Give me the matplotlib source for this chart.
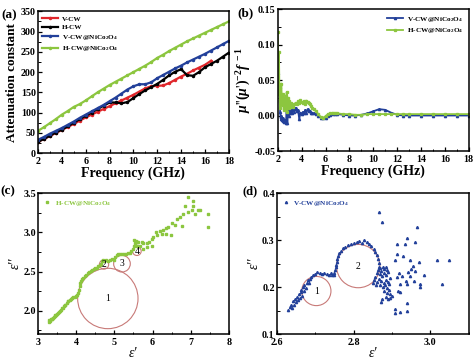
import numpy as np
import matplotlib
matplotlib.use("Agg")
import matplotlib.pyplot as plt
from matplotlib.patches import Ellipse
from matplotlib.ticker import AutoMinorLocator

plt.rcParams['font.family'] = ['Liberation Serif', 'DejaVu Serif']
plt.rcParams['font.weight'] = 'bold'
plt.rcParams['mathtext.fontset'] = 'custom'
plt.rcParams['mathtext.rm'] = 'Liberation Serif:bold'
plt.rcParams['mathtext.it'] = 'Liberation Serif:italic:bold'
plt.rcParams['mathtext.bf'] = 'Liberation Serif:bold'

RED = '#e0262b'
BLUE = '#22409a'
GREEN = '#8cc63f'
RING = '#c87a78'

# ---- (a) attenuation constant ----
freq_a = [2.0, 2.5, 3.0, 3.5, 4.0, 4.5, 5.0, 5.5, 6.0, 6.5, 7.0, 7.5, 8.0, 8.5, 9.0, 9.5,
          10.0, 10.5, 11.0, 11.5, 12.0, 12.5, 13.0, 13.5, 14.0, 14.5, 15.0, 15.5, 16.0,
          16.5, 17.0, 17.5, 18.0]
att_vcw = [28, 35, 42, 50, 57, 65, 72, 80, 88, 95, 102, 109, 116, 123, 130, 137,
           144, 152, 160, 165, 166, 167, 173, 181, 189, 196, 204, 211, 218,
           228, np.nan, np.nan, np.nan]
att_hcw = [28, 35, 43, 51, 58, 66, 75, 84, 92, 100, 109, 117, 125, 125, 123, 126,
           136, 146, 155, 163, 171, 181, 192, 201, 207, 192, 191, 200, 212,
           220, 228, 238, 248]
att_vnc = [33, 40, 48, 55, 62, 70, 78, 87, 95, 103, 111, 119, 128, 137, 147, 157,
           165, 170, 170, 175, 185, 193, 201, 209, 216, 224, 231, 238, 245,
           253, 261, 269, 277]
att_hnc = [55, 64, 74, 84, 95, 104, 114, 121, 130, 140, 150, 159, 168, 176, 184, 192,
           200, 208, 216, 225, 235, 243, 252, 260, 268, 276, 283, 290, 297,
           304, 311, 318, 325]

# ---- (b) eddy current C0 ----
freq_b = [2.0, 2.05, 2.1, 2.15, 2.2, 2.25, 2.3, 2.35, 2.4, 2.45, 2.5, 2.55, 2.6, 2.65,
          2.7, 2.75, 2.8, 2.85, 2.9, 2.95, 3.0,
          3.1, 3.2, 3.3, 3.4, 3.5, 3.6, 3.7, 3.8, 3.9, 4.0,
          4.1, 4.2, 4.3, 4.4, 4.5, 4.6, 4.7, 4.8, 4.9, 5.0,
          5.2, 5.4, 5.6, 5.8, 6.0, 6.2, 6.4, 6.6, 6.8, 7.0,
          7.5, 8.0, 8.5, 9.0, 9.5, 10.0, 10.5, 11.0, 11.5, 12.0,
          12.5, 13.0, 14.0, 15.0, 16.0, 17.0, 18.0]
c0_vnc = [0.060, 0.035, 0.045, 0.040, 0.005, -0.005, 0.000, -0.006, -0.004, -0.008, -0.006,
          -0.009, -0.007, -0.010, -0.008, 0.020, -0.010, 0.010, 0.000, 0.006, 0.004,
          0.008, 0.003, 0.010, 0.005, 0.011, 0.006, 0.008, -0.005, 0.004, 0.002,
          0.005, 0.003, 0.008, 0.004, 0.009, 0.006, 0.007, 0.004, 0.004, 0.003,
          0.002, 0.000, -0.003, -0.004, -0.003, 0.000, 0.001, 0.002, 0.002, 0.002,
          0.001, 0.000, 0.000, 0.001, 0.003, 0.006, 0.009, 0.008, 0.004, 0.001,
          0.000, 0.000, 0.000, 0.000, 0.000, 0.000, 0.000]
c0_hnc = [0.118, 0.030, 0.090, 0.020, 0.010, 0.030, 0.045, 0.015, 0.020, 0.030, 0.008,
          0.025, 0.012, 0.028, 0.010, 0.033, 0.005, 0.025, 0.010, 0.020, 0.012,
          0.018, 0.015, 0.012, 0.016, 0.018, 0.016, 0.020, 0.017, 0.022, 0.019,
          0.017, 0.020, 0.016, 0.021, 0.019, 0.018, 0.016, 0.013, 0.011, 0.009,
          0.006, 0.002, -0.002, -0.003, -0.001, 0.002, 0.003, 0.004, 0.003, 0.003,
          0.002, 0.002, 0.001, 0.001, 0.002, 0.002, 0.002, 0.002, 0.002, 0.002,
          0.002, 0.002, 0.002, 0.002, 0.002, 0.002, 0.002]

# ---- (c) Cole-Cole, H-CW@NiCo2O4 ----
c_e1 = [3.28, 3.30, 3.32, 3.34, 3.36, 3.38, 3.40, 3.42, 3.44, 3.46, 3.48, 3.50, 3.52, 3.55,
        3.58, 3.60, 3.62, 3.65, 3.68, 3.70, 3.72, 3.75, 3.78, 3.80, 3.83, 3.86, 3.90, 3.93,
        3.96, 4.00, 4.03, 4.05, 4.07, 4.09, 4.11, 4.13, 4.16, 4.19, 4.22, 4.26, 4.30, 4.34,
        4.38, 4.42, 4.46, 4.50, 4.54, 4.58, 4.62, 4.65, 4.67, 4.70, 4.74, 4.78, 4.83, 4.88,
        4.93, 4.98, 5.02, 5.06, 5.10, 5.15, 5.20, 5.25, 5.30, 5.35, 5.40, 5.44, 5.48, 5.52,
        5.54, 5.56, 5.60,
        6.92, 7.05, 7.07, 6.85, 7.02, 6.94, 7.10, 7.20, 7.24, 7.46, 7.44, 6.79, 6.72, 6.63,
        6.50, 6.59, 6.77, 6.41, 6.28, 6.35, 6.20, 6.09, 6.24, 6.48, 6.35, 6.11, 6.02, 5.98,
        5.92, 5.85, 5.76, 5.67, 5.72, 5.63, 5.57, 5.52, 5.76, 5.85, 5.98, 5.59]
c_e2 = [1.86, 1.88, 1.87, 1.89, 1.90, 1.89, 1.91, 1.92, 1.93, 1.94, 1.95, 1.96, 1.97, 1.98,
        2.00, 2.01, 2.03, 2.04, 2.06, 2.07, 2.08, 2.10, 2.12, 2.13, 2.14, 2.15, 2.16, 2.17,
        2.18, 2.19, 2.20, 2.23, 2.27, 2.31, 2.35, 2.38, 2.40, 2.42, 2.44, 2.46, 2.48, 2.49,
        2.51, 2.52, 2.53, 2.54, 2.55, 2.57, 2.58, 2.60, 2.63, 2.65, 2.64, 2.65, 2.64, 2.65,
        2.66, 2.65, 2.68, 2.71, 2.72, 2.73, 2.72, 2.73, 2.73, 2.74, 2.74, 2.76, 2.79, 2.83,
        2.87, 2.89, 2.88,
        3.45, 3.40, 3.34, 3.34, 3.29, 3.26, 3.24, 3.28, 3.29, 3.24, 3.07, 3.24, 3.20, 3.17,
        3.12, 3.09, 3.08, 3.07, 3.03, 3.05, 3.02, 3.00, 2.98, 2.96, 2.98, 2.96, 2.94, 2.91,
        2.88, 2.86, 2.86, 2.83, 2.88, 2.88, 2.88, 2.90, 2.79, 2.81, 2.83, 2.83]
c_rings = [(4.83, 2.157, 0.79, 0.385, '1'), (4.73, 2.59, 0.122, 0.059, '2'),
           (5.20, 2.60, 0.218, 0.106, '3'), (5.59, 2.76, 0.113, 0.055, '4')]

# ---- (d) Cole-Cole, V-CW@NiCo2O4 ----
d_e1 = [2.630, 2.635, 2.638, 2.640, 2.643, 2.645, 2.648, 2.650, 2.652, 2.655, 2.657, 2.660,
        2.662, 2.664, 2.666, 2.668, 2.670, 2.672, 2.675, 2.678, 2.680, 2.683, 2.686, 2.690,
        2.695, 2.700, 2.705, 2.712, 2.718, 2.724, 2.730, 2.735, 2.740, 2.744, 2.748, 2.750,
        2.752, 2.754, 2.755, 2.756, 2.758, 2.760, 2.763, 2.767, 2.772, 2.778, 2.785, 2.792,
        2.800, 2.808, 2.815, 2.822, 2.828, 2.834, 2.840, 2.846, 2.852, 2.857, 2.861, 2.864,
        2.866, 2.866, 2.864, 2.860, 2.856, 2.852, 2.850,
        2.868, 2.872, 2.876, 2.880, 2.884, 2.888, 2.870, 2.875, 2.880, 2.885, 2.890, 2.866,
        2.872, 2.878, 2.884, 2.889, 2.894, 2.870, 2.876, 2.882, 2.887, 2.892, 2.880, 2.886,
        2.892, 2.896, 2.884, 2.890, 2.896, 2.900, 2.873, 2.872, 2.862, 2.858,
        2.866, 2.874, 2.965, 2.939, 2.959, 2.912, 2.935, 2.912, 2.929, 2.908, 2.946, 2.971,
        3.016, 3.048, 2.955, 2.950, 2.961, 2.942, 2.984, 2.918, 2.927, 2.946, 2.912, 2.936,
        2.958, 3.029, 2.938, 2.974, 2.974, 2.922, 2.916, 2.920, 2.938, 2.907, 2.907, 2.922,
        2.939]
d_e2 = [0.152, 0.158, 0.163, 0.155, 0.170, 0.162, 0.175, 0.168, 0.180, 0.172, 0.185, 0.178,
        0.190, 0.195, 0.182, 0.200, 0.192, 0.205, 0.198, 0.210, 0.215, 0.208, 0.218, 0.222,
        0.225, 0.228, 0.232, 0.230, 0.229, 0.231, 0.228, 0.226, 0.230, 0.227, 0.231, 0.225,
        0.236, 0.242, 0.248, 0.254, 0.260, 0.266, 0.272, 0.278, 0.283, 0.286, 0.289, 0.292,
        0.294, 0.296, 0.298, 0.295, 0.300, 0.296, 0.292, 0.288, 0.282, 0.275, 0.268, 0.260,
        0.252, 0.244, 0.237, 0.230, 0.222, 0.215, 0.210,
        0.240, 0.235, 0.242, 0.238, 0.244, 0.236, 0.228, 0.224, 0.230, 0.226, 0.232, 0.218,
        0.214, 0.210, 0.216, 0.212, 0.220, 0.205, 0.200, 0.204, 0.198, 0.206, 0.192, 0.188,
        0.195, 0.185, 0.180, 0.176, 0.178, 0.182, 0.175, 0.168, 0.212, 0.205,
        0.360, 0.338, 0.327, 0.304, 0.297, 0.292, 0.292, 0.271, 0.267, 0.257, 0.257, 0.253,
        0.257, 0.258, 0.245, 0.238, 0.235, 0.233, 0.226, 0.230, 0.224, 0.224, 0.221, 0.214,
        0.214, 0.207, 0.207, 0.207, 0.200, 0.207, 0.193, 0.189, 0.166, 0.153, 0.146, 0.148,
        0.150]
d_rings = [(2.703, 0.192, 0.038, 0.031, '1'), (2.812, 0.245, 0.0565, 0.046, '2')]

fig = plt.figure(figsize=(4.74, 3.63), dpi=100)
ax_a = fig.add_axes([0.080, 0.578, 0.403, 0.391])
ax_b = fig.add_axes([0.586, 0.584, 0.403, 0.391])
ax_c = fig.add_axes([0.080, 0.079, 0.403, 0.389])
ax_d = fig.add_axes([0.584, 0.079, 0.405, 0.389])


def style(ax):
    for s in ax.spines.values():
        s.set_linewidth(1.1)
    ax.tick_params(direction='in', labelsize=7.2, width=0.9, length=3, pad=1.5)
    ax.tick_params(axis='x', pad=3)
    ax.tick_params(which='minor', direction='in', width=0.7, length=1.8)
    ax.xaxis.set_minor_locator(AutoMinorLocator(2))
    ax.yaxis.set_minor_locator(AutoMinorLocator(2))
    for lab in ax.get_xticklabels() + ax.get_yticklabels():
        lab.set_fontweight('bold')


# (a)
ax_a.plot(freq_a, att_vcw, color=RED, lw=1.6, marker='o', ms=1.5, label='V-CW')
ax_a.plot(freq_a, att_hcw, color='black', lw=1.6, marker='o', ms=1.5, label='H-CW')
ax_a.plot(freq_a, att_vnc, color=BLUE, lw=1.6, marker='o', ms=1.5, label='V-CW@NiCo$_2$O$_4$')
ax_a.plot(freq_a, att_hnc, color=GREEN, lw=1.6, marker='o', ms=1.5, label='H-CW@NiCo$_2$O$_4$')
ax_a.set_xlim(2, 18)
ax_a.set_ylim(0, 350)
ax_a.set_xticks(range(2, 19, 2))
ax_a.set_yticks(range(0, 351, 50))
ax_a.set_xlabel('Frequency (GHz)', fontsize=10, fontweight='bold', labelpad=0)
ax_a.set_ylabel('Attenuation constant', fontsize=9.5, fontweight='bold', labelpad=2)
ax_a.legend(loc='upper left', frameon=False, fontsize=5.2, handlelength=2.2,
            borderaxespad=0.2, labelspacing=0.35, handletextpad=0.5)
style(ax_a)

# (b)
ax_b.plot(freq_b, c0_vnc, color=BLUE, lw=1.3, marker='^', ms=1.6, label='V-CW@NiCo$_2$O$_4$')
ax_b.plot(freq_b, c0_hnc, color=GREEN, lw=1.3, marker='s', ms=1.4, label='H-CW@NiCo$_2$O$_4$')
ax_b.set_xlim(2, 18)
ax_b.set_ylim(-0.05, 0.15)
ax_b.set_xticks(range(2, 19, 2))
ax_b.set_yticks([-0.05, 0.0, 0.05, 0.10, 0.15])
ax_b.set_yticklabels(['-0.05', '0.00', '0.05', '0.10', '0.15'])
ax_b.set_xlabel('Frequency (GHz)', fontsize=10, fontweight='bold', labelpad=0)
ax_b.set_ylabel(r"$\mu$''$(\mu$'$)^{-2}f^{\,-1}$", fontsize=10, labelpad=1)
ax_b.legend(loc='upper right', frameon=False, fontsize=5.2, handlelength=2.2,
            borderaxespad=0.4, labelspacing=0.35, handletextpad=0.5)
style(ax_b)

# (c)
ax_c.plot(c_e1, c_e2, ls='none', marker='s', ms=1.6, color=GREEN, mec=GREEN,
          label='H-CW@NiCo$_2$O$_4$')
for x0, y0, rx, ry, tag in c_rings:
    ax_c.add_patch(Ellipse((x0, y0), 2 * rx, 2 * ry, fill=False, ec=RING, lw=0.8))
    ax_c.text(x0, y0, tag, ha='center', va='center', fontsize=7, fontweight='normal')
ax_c.set_xlim(3, 8)
ax_c.set_ylim(1.7, 3.5)
ax_c.set_xticks(range(3, 9))
ax_c.set_yticks([2.0, 2.5, 3.0, 3.5])
ax_c.set_yticklabels(['2.0', '2.5', '3.0', '3.5'])
ax_c.set_xlabel("ε'", fontsize=10, fontstyle='italic', labelpad=0)
ax_c.set_ylabel("ε''", fontsize=10, fontstyle='italic', labelpad=1)
ax_c.legend(loc='upper left', frameon=False, fontsize=5.2, handlelength=1,
            borderaxespad=0.4, handletextpad=0.5, labelcolor=GREEN)
style(ax_c)

# (d)
ax_d.plot(d_e1, d_e2, ls='none', marker='^', ms=1.6, color=BLUE, mec=BLUE,
          label='V-CW@NiCo$_2$O$_4$')
for x0, y0, rx, ry, tag in d_rings:
    ax_d.add_patch(Ellipse((x0, y0), 2 * rx, 2 * ry, fill=False, ec=RING, lw=0.8))
    ax_d.text(x0, y0, tag, ha='center', va='center', fontsize=7, fontweight='normal')
ax_d.set_xlim(2.6, 3.1)
ax_d.set_ylim(0.1, 0.4)
ax_d.set_xticks([2.6, 2.8, 3.0])
ax_d.set_yticks([0.1, 0.2, 0.3, 0.4])
ax_d.set_xlabel("ε'", fontsize=10, fontstyle='italic', labelpad=0)
ax_d.set_ylabel("ε''", fontsize=10, fontstyle='italic', labelpad=1)
ax_d.legend(loc='upper left', frameon=False, fontsize=5.2, handlelength=1,
            borderaxespad=0.4, handletextpad=0.5, labelcolor=BLUE)
style(ax_d)

fig.text(0.003, 0.975, '(a)', fontsize=9.5, fontweight='bold', va='top')
fig.text(0.500, 0.980, '(b)', fontsize=9.5, fontweight='bold', va='top')
fig.text(0.000, 0.490, '(c)', fontsize=9.5, fontweight='bold', va='top')
fig.text(0.512, 0.490, '(d)', fontsize=9, fontweight='bold', va='top')

fig.savefig('out.png', dpi=100)
